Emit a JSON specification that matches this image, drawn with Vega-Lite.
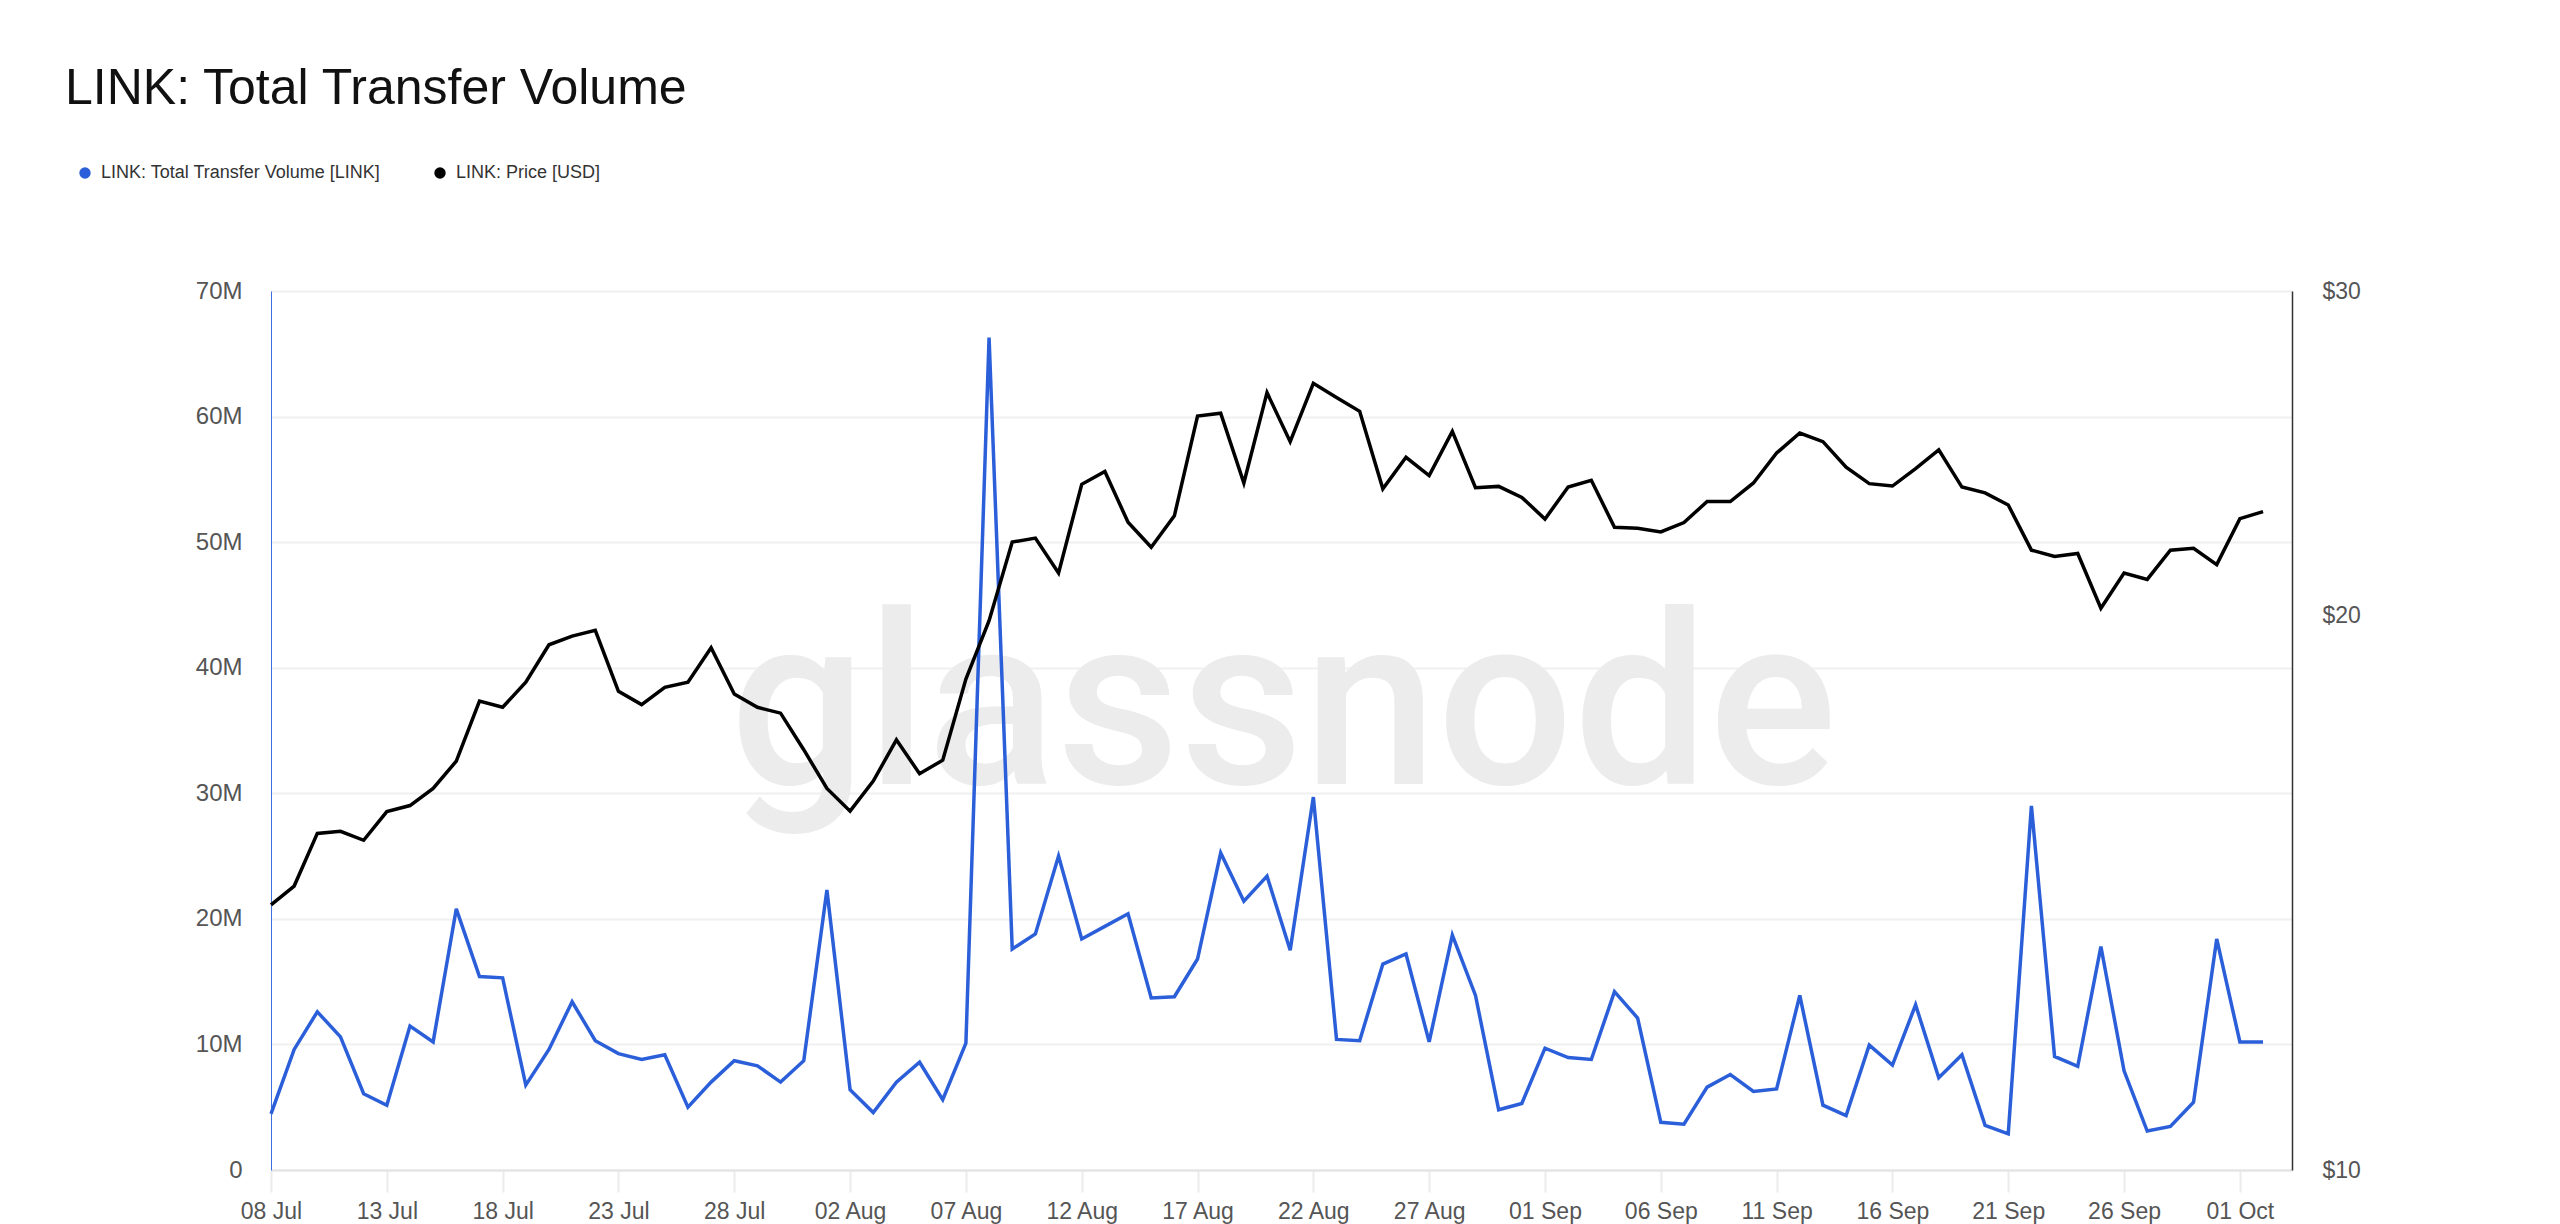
{
  "$schema": "https://vega.github.io/schema/vega-lite/v6.json",
  "autosize": {"type": "none"},
  "width": 2021,
  "height": 879,
  "padding": {"left": 271, "top": 291, "right": 268, "bottom": 54},
  "background": "white",
  "config": {"font": "Liberation Sans", "view": {"stroke": null}},
  "title": {"text": "LINK: Total Transfer Volume", "anchor": "start", "frame": "group", "dx": -206, "offset": 10, "fontSize": 50, "fontWeight": "normal", "color": "#111111", "font": "Liberation Sans", "baseline": "alphabetic"},
  "data": {"values": [
    {"d": "2025-07-08", "v": 4470000, "p": 13.93},
    {"d": "2025-07-09", "v": 9600000, "p": 14.26},
    {"d": "2025-07-10", "v": 12600000, "p": 15.23},
    {"d": "2025-07-11", "v": 10600000, "p": 15.27},
    {"d": "2025-07-12", "v": 6070000, "p": 15.10},
    {"d": "2025-07-13", "v": 5160000, "p": 15.65},
    {"d": "2025-07-14", "v": 11460000, "p": 15.77},
    {"d": "2025-07-15", "v": 10200000, "p": 16.11},
    {"d": "2025-07-16", "v": 20800000, "p": 16.67},
    {"d": "2025-07-17", "v": 15400000, "p": 17.97},
    {"d": "2025-07-18", "v": 15300000, "p": 17.83},
    {"d": "2025-07-19", "v": 6760000, "p": 18.40},
    {"d": "2025-07-20", "v": 9600000, "p": 19.28},
    {"d": "2025-07-21", "v": 13400000, "p": 19.49},
    {"d": "2025-07-22", "v": 10300000, "p": 19.63},
    {"d": "2025-07-23", "v": 9270000, "p": 18.19},
    {"d": "2025-07-24", "v": 8800000, "p": 17.89},
    {"d": "2025-07-25", "v": 9180000, "p": 18.28},
    {"d": "2025-07-26", "v": 5000000, "p": 18.40},
    {"d": "2025-07-27", "v": 7000000, "p": 19.21},
    {"d": "2025-07-28", "v": 8700000, "p": 18.13},
    {"d": "2025-07-29", "v": 8300000, "p": 17.83},
    {"d": "2025-07-30", "v": 7000000, "p": 17.70},
    {"d": "2025-07-31", "v": 8700000, "p": 16.91},
    {"d": "2025-08-01", "v": 22300000, "p": 16.11},
    {"d": "2025-08-02", "v": 6400000, "p": 15.66},
    {"d": "2025-08-03", "v": 4570000, "p": 16.26},
    {"d": "2025-08-04", "v": 7000000, "p": 17.12},
    {"d": "2025-08-05", "v": 8580000, "p": 16.41},
    {"d": "2025-08-06", "v": 5600000, "p": 16.69},
    {"d": "2025-08-07", "v": 10100000, "p": 18.47},
    {"d": "2025-08-08", "v": 66300000, "p": 19.87},
    {"d": "2025-08-09", "v": 17600000, "p": 21.92},
    {"d": "2025-08-10", "v": 18800000, "p": 22.03},
    {"d": "2025-08-11", "v": 25000000, "p": 21.09},
    {"d": "2025-08-12", "v": 18400000, "p": 23.56},
    {"d": "2025-08-13", "v": 19400000, "p": 23.94},
    {"d": "2025-08-14", "v": 20400000, "p": 22.47},
    {"d": "2025-08-15", "v": 13700000, "p": 21.78},
    {"d": "2025-08-16", "v": 13800000, "p": 22.65},
    {"d": "2025-08-17", "v": 16800000, "p": 25.66},
    {"d": "2025-08-18", "v": 25250000, "p": 25.75},
    {"d": "2025-08-19", "v": 21400000, "p": 23.60},
    {"d": "2025-08-20", "v": 23400000, "p": 26.42},
    {"d": "2025-08-21", "v": 17500000, "p": 24.85},
    {"d": "2025-08-22", "v": 29700000, "p": 26.73},
    {"d": "2025-08-23", "v": 10400000, "p": 26.26},
    {"d": "2025-08-24", "v": 10300000, "p": 25.81},
    {"d": "2025-08-25", "v": 16400000, "p": 23.43},
    {"d": "2025-08-26", "v": 17200000, "p": 24.37},
    {"d": "2025-08-27", "v": 10200000, "p": 23.82},
    {"d": "2025-08-28", "v": 18700000, "p": 25.17},
    {"d": "2025-08-29", "v": 13900000, "p": 23.46},
    {"d": "2025-08-30", "v": 4800000, "p": 23.50},
    {"d": "2025-08-31", "v": 5300000, "p": 23.18},
    {"d": "2025-09-01", "v": 9700000, "p": 22.56},
    {"d": "2025-09-02", "v": 8950000, "p": 23.48},
    {"d": "2025-09-03", "v": 8800000, "p": 23.68},
    {"d": "2025-09-04", "v": 14200000, "p": 22.33},
    {"d": "2025-09-05", "v": 12100000, "p": 22.30},
    {"d": "2025-09-06", "v": 3800000, "p": 22.20},
    {"d": "2025-09-07", "v": 3650000, "p": 22.46},
    {"d": "2025-09-08", "v": 6600000, "p": 23.06},
    {"d": "2025-09-09", "v": 7600000, "p": 23.06},
    {"d": "2025-09-10", "v": 6260000, "p": 23.60},
    {"d": "2025-09-11", "v": 6450000, "p": 24.50},
    {"d": "2025-09-12", "v": 13900000, "p": 25.12},
    {"d": "2025-09-13", "v": 5160000, "p": 24.85},
    {"d": "2025-09-14", "v": 4340000, "p": 24.07},
    {"d": "2025-09-15", "v": 9950000, "p": 23.58},
    {"d": "2025-09-16", "v": 8360000, "p": 23.51},
    {"d": "2025-09-17", "v": 13150000, "p": 24.03},
    {"d": "2025-09-18", "v": 7350000, "p": 24.60},
    {"d": "2025-09-19", "v": 9180000, "p": 23.48},
    {"d": "2025-09-20", "v": 3560000, "p": 23.31},
    {"d": "2025-09-21", "v": 2880000, "p": 22.96},
    {"d": "2025-09-22", "v": 29000000, "p": 21.70},
    {"d": "2025-09-23", "v": 9040000, "p": 21.53},
    {"d": "2025-09-24", "v": 8260000, "p": 21.61},
    {"d": "2025-09-25", "v": 17800000, "p": 20.18},
    {"d": "2025-09-26", "v": 7900000, "p": 21.09},
    {"d": "2025-09-27", "v": 3100000, "p": 20.92},
    {"d": "2025-09-28", "v": 3470000, "p": 21.70},
    {"d": "2025-09-29", "v": 5390000, "p": 21.75},
    {"d": "2025-09-30", "v": 18400000, "p": 21.31},
    {"d": "2025-10-01", "v": 10200000, "p": 22.57},
    {"d": "2025-10-02", "v": 10200000, "p": 22.77}
  ]},
  "layer": [
    {
      "data": {"values": [{"label": "glassnode"}]},
      "mark": {"type": "text", "font": "Roboto", "fontSize": 240, "fontWeight": 500, "color": "#ececec", "align": "center", "baseline": "alphabetic"},
      "encoding": {
        "x": {"datum": {"year": 2025, "month": 8, "date": 20, "hours": 17, "utc": true}, "type": "temporal"},
        "y": {"datum": 30760000, "type": "quantitative", "scale": {"domain": [0, 70000000], "nice": false}, "axis": null},
        "text": {"field": "label", "type": "nominal"}
      }
    },
    {
      "mark": {"type": "line", "strokeWidth": 3.5},
      "encoding": {
        "x": {"field": "d", "type": "temporal",
          "scale": {"type": "utc", "domain": [{"year": 2025, "month": 7, "date": 8, "utc": true}, {"year": 2025, "month": 10, "date": 3, "hours": 6, "utc": true}]},
          "axis": {
            "title": null, "grid": false,
            "values": [
              {"year": 2025, "month": 7, "date": 8, "utc": true}, {"year": 2025, "month": 7, "date": 13, "utc": true},
              {"year": 2025, "month": 7, "date": 18, "utc": true}, {"year": 2025, "month": 7, "date": 23, "utc": true},
              {"year": 2025, "month": 7, "date": 28, "utc": true}, {"year": 2025, "month": 8, "date": 2, "utc": true},
              {"year": 2025, "month": 8, "date": 7, "utc": true}, {"year": 2025, "month": 8, "date": 12, "utc": true},
              {"year": 2025, "month": 8, "date": 17, "utc": true}, {"year": 2025, "month": 8, "date": 22, "utc": true},
              {"year": 2025, "month": 8, "date": 27, "utc": true}, {"year": 2025, "month": 9, "date": 1, "utc": true},
              {"year": 2025, "month": 9, "date": 6, "utc": true}, {"year": 2025, "month": 9, "date": 11, "utc": true},
              {"year": 2025, "month": 9, "date": 16, "utc": true}, {"year": 2025, "month": 9, "date": 21, "utc": true},
              {"year": 2025, "month": 9, "date": 26, "utc": true}, {"year": 2025, "month": 10, "date": 1, "utc": true}
            ],
            "labelExpr": "utcFormat(datum.value, '%d %b')",
            "domainColor": "#e3e3e3", "domainWidth": 2,
            "tickColor": "#ebebeb", "tickSize": 22, "tickWidth": 2,
            "labelFontSize": 23, "labelColor": "#555555", "labelPadding": 8,
            "labelFlush": false, "labelOverlap": false
          }
        },
        "y": {"field": "v", "type": "quantitative",
          "scale": {"domain": [0, 70000000], "nice": false},
          "axis": {
            "title": null, "values": [0, 10000000, 20000000, 30000000, 40000000, 50000000, 60000000, 70000000],
            "labelExpr": "datum.value == 0 ? '0' : format(datum.value / 1000000, 'd') + 'M'",
            "grid": true, "gridColor": "#f0f0f0", "gridWidth": 2,
            "domain": true, "domainColor": "#3d6fe0", "domainWidth": 1,
            "ticks": false, "labelPadding": 29, "labelFontSize": 24, "labelColor": "#555555"
          }
        },
        "color": {"datum": "LINK: Total Transfer Volume [LINK]", "type": "nominal",
          "scale": {"domain": ["LINK: Total Transfer Volume [LINK]", "LINK: Price [USD]"], "range": ["#2b5fd9", "#000000"]},
          "legend": {
            "orient": "none", "legendX": -195, "legendY": -127, "direction": "horizontal",
            "title": null, "labelFontSize": 18, "labelColor": "#333333", "labelLimit": 1000,
            "symbolType": "circle", "symbolSize": 130, "columnPadding": 50, "labelOffset": 7, "padding": 0,
            "symbolStrokeWidth": 0,
            "encode": {"symbols": {"update": {"fill": {"scale": "color", "field": "value"}, "strokeWidth": {"value": 0}}}}
          }
        }
      }
    },
    {
      "mark": {"type": "line", "strokeWidth": 3.5},
      "encoding": {
        "x": {"field": "d", "type": "temporal"},
        "y": {"field": "p", "type": "quantitative",
          "scale": {"type": "log", "domain": [10, 30], "nice": false},
          "axis": {
            "orient": "right", "title": null, "values": [10, 20, 30],
            "labelExpr": "'$' + datum.value", "grid": false, "ticks": false,
            "domainColor": "#333333", "domainWidth": 1.5,
            "labelPadding": 30, "labelFontSize": 23, "labelColor": "#555555"
          }
        },
        "color": {"datum": "LINK: Price [USD]", "type": "nominal"}
      }
    }
  ],
  "resolve": {"scale": {"y": "independent"}}
}
